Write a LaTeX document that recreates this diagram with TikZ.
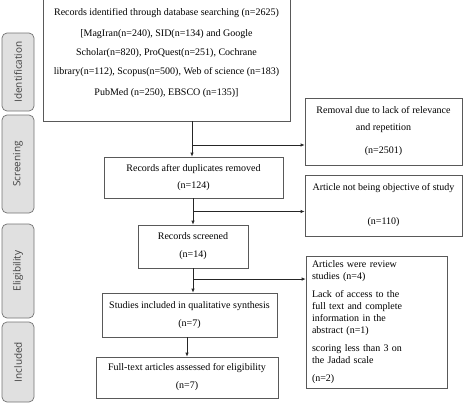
\documentclass[tikz,border=0pt]{standalone}
\usepackage{fontspec}
\setmainfont{Liberation Serif}
\newfontfamily\tabfont{Open Sans}
\usetikzlibrary{arrows.meta,calc}
\begin{document}
\begin{tikzpicture}[x=1pt,y=-1pt,
  box/.style={draw=black!65, line width=0.7pt, fill=white, inner sep=0pt, align=center},
  tab/.style={draw=black!55, fill=black!12, rounded corners=5pt, line width=0.7pt, rotate=90, inner sep=0pt,
    font=\tabfont\fontsize{10}{12}\selectfont, text=black!75},
  arr/.style={-{Latex[length=4pt,width=3.5pt]}, line width=0.7pt, black!85}]
\useasboundingbox (0,0) rectangle (474,408);
% phase tabs
\node[tab, minimum width=78, minimum height=32] (tid) at (18,72) {Identification};
\node[tab, minimum width=98, minimum height=32] (tsc) at (18,164) {Screening};
\node[tab, minimum width=94, minimum height=32] (tel) at (18,271) {Eligibility};
\node[tab, minimum width=80, minimum height=32] (tin) at (18,362) {Included};
% boxes
\node[box, minimum width=247, minimum height=135, font=\fontsize{10}{19}\selectfont] (top) at (166.5,53.5)
  {Records identified through database searching (n=2625)\\[2pt]
   [MagIran(n=240), SID(n=134) and Google\\
   Scholar(n=820), ProQuest(n=251), Cochrane\\
   library(n=112), Scopus(n=500), Web of science (n=183)\\[2pt]
   PubMed (n=250), EBSCO (n=135)]};
\node[box, minimum width=157, minimum height=67, font=\fontsize{10}{17}\selectfont] (rem) at (383.5,131.5)
  {Removal due to lack of relevance\\ and repetition\\[6pt] (n=2501)};
\node[box, minimum width=179, minimum height=41, font=\fontsize{10}{17}\selectfont] (b2) at (193.5,177.5)
  {Records after duplicates removed\\ (n=124)};
\node[box, minimum width=157, minimum height=61, font=\fontsize{10}{17}\selectfont] (art) at (383.5,205.5)
  {Article not being objective of study\\[17pt] (n=110)};
\node[box, minimum width=110, minimum height=43, font=\fontsize{10}{18}\selectfont] (b3) at (193,246.5)
  {Records screened\\ (n=14)};
\node[box, minimum width=175, minimum height=44, font=\fontsize{10}{18}\selectfont] (b4) at (189.5,315)
  {Studies included in qualitative synthesis\\ (n=7)};
\node[box, minimum width=141, minimum height=132, text width=129, inner xsep=6pt, align=left,
  font=\fontsize{10}{12}\selectfont] (exc) at (376.5,322)
  {Articles were review\\ studies (n=4)\\[6pt]
   Lack of access to the\\ full text and complete\\ information in the\\ abstract (n=1)\\[6pt]
   scoring less than 3 on\\ the Jadad scale\\[6pt]
   (n=2)};
\node[box, minimum width=182, minimum height=41, font=\fontsize{10}{18}\selectfont] (b5) at (187,377.5)
  {Full-text articles assessed for eligibility\\ (n=7)};
% connectors
\coordinate (s1) at (top.south -| 192,0);
\coordinate (e1) at (b2.north -| 192,0);
\draw[arr] (s1) -- (e1);
\coordinate (j1) at ($(s1)!0.67!(e1)$);
\draw[arr] (j1) -- (j1 -| rem.west);
\draw[arr] (b2.south -| b3.north) -- (b3.north);
\coordinate (j2) at ($(b2.south -| b3.north)!0.5!(b3.north)$);
\draw[arr] (j2) -- (j2 -| art.west);
\draw[arr] (b3.south) -- (b3.south |- b4.north);
\coordinate (j3) at ($(b3.south)!0.44!(b3.south |- b4.north)$);
\draw[arr] (j3) -- (j3 -| exc.west);
\draw[arr] (b4.south -| b5.north) -- (b5.north);
\end{tikzpicture}
\end{document}
